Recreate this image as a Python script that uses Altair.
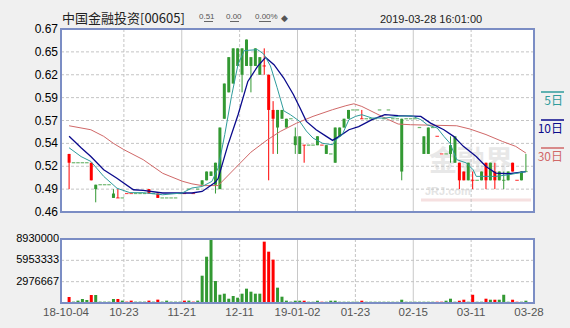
import json
import altair as alt
import pandas as pd

# ---------------- data ----------------
opens = [.53,.52,.52,.52,.52,.52,.49,.495,.495,.495,
         .48,.48,.48,.485,.485,.485,.485,.485,.49,.485,
         .485,.48,.48,.48,.48,.485,.485,.49,.485,.49,
         .495,.50,.505,.495,.49,.57,.60,.61,.63,.62,
         .63,.63,.63,.62,.63,.62,.58,.56,.57,.56,
         .57,.54,.53,.54,.54,.54,.54,.54,.53,.53,
         .52,.55,.56,.57,.58,.58,.57,.57,.57,.57,
         .58,.57,.58,.57,.57,.51,.57,.57,.57,.56,
         .53,.53,.56,.55,.53,.53,.53,.52,.52,.51,
         .50,.50,.50,.50,.52,.50,.51,.50,.50,.50,
         .52,.50,.50,.51]
highs = [.53,.52,.52,.52,.52,.52,.495,.495,.495,.495,
         .49,.49,.48,.485,.485,.485,.485,.485,.49,.485,
         .485,.48,.48,.48,.48,.485,.485,.49,.485,.49,
         .50,.51,.51,.52,.56,.61,.64,.65,.65,.65,
         .66,.64,.65,.64,.65,.62,.59,.58,.58,.57,
         .57,.56,.55,.54,.54,.54,.55,.54,.54,.53,
         .56,.56,.57,.58,.58,.58,.58,.57,.57,.57,
         .58,.57,.58,.57,.57,.57,.57,.57,.57,.56,
         .55,.56,.56,.55,.53,.53,.55,.55,.52,.51,
         .52,.51,.50,.51,.52,.52,.52,.51,.51,.51,
         .52,.50,.51,.53]
lows = [.49,.52,.52,.52,.52,.50,.475,.495,.495,.495,
        .48,.48,.48,.485,.485,.485,.485,.485,.485,.485,
        .48,.48,.48,.48,.48,.485,.485,.49,.485,.49,
        .495,.50,.505,.485,.49,.57,.60,.61,.63,.60,
        .63,.60,.63,.62,.62,.50,.53,.53,.57,.56,
        .57,.53,.53,.52,.54,.54,.54,.54,.53,.53,
        .52,.55,.56,.57,.58,.58,.57,.57,.57,.57,
        .58,.57,.58,.57,.57,.50,.57,.57,.57,.56,
        .53,.53,.56,.55,.53,.53,.52,.52,.49,.50,
        .50,.49,.50,.50,.49,.50,.49,.50,.49,.50,
        .51,.50,.50,.51]
closes = [.52,.52,.52,.52,.52,.50,.495,.495,.495,.495,
          .485,.48,.48,.485,.485,.485,.485,.485,.485,.485,
          .48,.48,.48,.48,.48,.485,.485,.49,.485,.49,
          .50,.51,.51,.52,.56,.61,.64,.65,.65,.65,
          .66,.64,.65,.64,.63,.58,.57,.58,.58,.57,
          .57,.55,.55,.54,.54,.54,.55,.54,.54,.53,
          .56,.56,.57,.58,.58,.58,.57,.57,.57,.57,
          .58,.57,.58,.57,.57,.57,.57,.57,.57,.56,
          .55,.56,.56,.55,.53,.53,.54,.55,.50,.50,
          .52,.50,.50,.51,.50,.52,.50,.51,.50,.51,
          .51,.50,.51,.51]
direction = list("RGGGGRGGGG" "GRGRRGGGRG" "RGGGGGRGRG" "GGGGGGGGGG"
                 "GGGGRRRGGG" "GGGRGGGRGG" "GGGGGGRGGG" "GGGGGGGGGG"
                 "GGGRRGGGRR" "GRGGRGRGGG" "RRGG")
volume = [840000,190000,330000,560000,420000,1120000,1120000,190000,190000,190000,
          560000,560000,330000,190000,330000,190000,190000,190000,330000,190000,
          470000,190000,330000,190000,190000,190000,330000,330000,190000,330000,
          3810000,6460000,8930000,3070000,1160000,1300000,600000,980000,740000,1300000,
          2000000,1580000,1300000,1300000,8560000,7160000,6050000,2140000,880000,330000,
          190000,320000,320000,320000,180000,180000,320000,180000,180000,320000,
          320000,180000,180000,180000,180000,180000,320000,180000,180000,180000,
          180000,180000,180000,180000,180000,460000,180000,180000,180000,180000,
          180000,180000,180000,180000,180000,320000,600000,180000,320000,460000,
          180000,1150000,180000,180000,600000,460000,460000,460000,1150000,180000,
          460000,180000,180000,320000]

ma5_i = [0, 2.7, 4.9, 7.8, 10.8, 13.7, 16.7, 21.1, 25.5, 27.7, 30, 32.2, 33.6, 35.1, 36.6,
         38.1, 39.5, 42.5, 43.9, 45.4, 46.9, 48.4, 49.9, 52.0, 53.5, 55, 57.2, 59.4, 60.2, 61.6,
         63.1, 64.6, 66, 68.3, 71.2, 74.2, 77.1, 79.3, 80.8, 83, 84.5, 85.9, 87.4, 89.6, 91.1,
         91.8, 96.2, 99.2, 103]
ma5_v = [.537, .527, .5215, .5045, .491, .486, .486, .4836, .4856, .4913, .493, .4988, .514, .552, .595,
         .632, .6475, .6485, .6435, .630, .6055, .579, .5746, .567, .556, .548, .542, .5405, .546, .552,
         .569, .5727, .5746, .5708, .5708, .5727, .5735, .569, .563, .5595, .55, .542, .5235, .5197, .512,
         .5045, .5045, .5064, .510]
ma10_i = [0, 2.7, 4.9, 7.8, 10.7, 14.5, 16.7, 21.1, 27.7, 30, 32.9, 33.6, 35.8, 38.1, 40.3,
          42.5, 44.3, 46.2, 48.4, 50.6, 52.1, 53.5, 55.7, 58, 59.4, 60.9, 63.1, 65.3, 68.3, 71.2,
          74.2, 79.3, 81.5, 84.5, 86.7, 88.9, 91.8, 94, 96.2, 99.2, 103]
ma10_v = [.550, .537, .527, .512, .5027, .4893, .4886, .4856, .4856, .4874, .4974, .502, .540, .5746, .6124,
          .6295, .6397, .6314, .6163, .5973, .582, .567, .5575, .550, .5454, .550, .5575, .561, .569, .5746,
          .5735, .5727, .565, .5575, .55, .5386, .527, .5158, .5083, .5075, .510]
ma30_i = [0, 4.9, 7.8, 10, 12.3, 16.7, 21.1, 25.5, 27.7, 30, 33.6, 37.3, 41, 44.7, 47.6,
          51.3, 55, 59.4, 62.4, 64.2, 66, 69, 72, 74.2, 77, 87.4, 90.4, 94, 97.7, 100.7, 103]
ma30_v = [.562, .5575, .550, .542, .535, .5235, .508, .499, .496, .494, .494, .513, .532, .546, .5555,
          .565, .5727, .5803, .5848, .587, .584, .5765, .569, .564, .5632, .562, .5583, .552, .5442, .5386, .531]

y_ticks = [0.464, 0.49, 0.516, 0.542, 0.568, 0.594, 0.62, 0.646, 0.672]
vol_ticks = [2976667, 5953333, 8930000]
x_labels = ["18-10-04", "10-23", "11-21", "12-11", "19-01-02", "01-23", "02-15", "03-11", "03-28"]
title_name = "中国金融投资[00605]"
quote_items = ["0.51", "0.00", "0.00%"]
stamp = "2019-03-28 16:01:00"
legend_names = ["5日", "10日", "30日"]

# ---------------- layout / style ----------------
W, H = 473, 275
MAIN_H = 183
VOL_TOP, VOL_BOT = 210, 274
X_LO, X_HI = -0.7, len(opens) - 1 + 0.7
GREEN, RED = "#339933", "#ff0000"
C5, C10, C30 = "#2f9c9c", "#0a0a8c", "#d06868"
BORDER = "#7b8dc4"
GRID = "#c4c4c4"
FONT = "Liberation Sans"
CJK = "Noto Sans CJK SC"

df = pd.DataFrame({"i": list(range(len(opens))), "o": opens, "h": highs, "l": lows,
                   "c": closes, "d": direction, "v": volume})

xs = alt.Scale(domain=[X_LO, X_HI], nice=False, zero=False)
ys = alt.Scale(domain=[y_ticks[0], y_ticks[-1]], range=[MAIN_H, 0], nice=False, zero=False)
vs = alt.Scale(domain=[0, vol_ticks[-1]], range=[VOL_BOT, VOL_TOP], nice=False)
col = alt.Color("d:N", scale=alt.Scale(domain=["G", "R"], range=[GREEN, RED]), legend=None)

step = (X_HI - X_LO) / (len(x_labels) - 1)
x_pos = [X_LO + k * step for k in range(len(x_labels))]

one = pd.DataFrame({"a": [0]})


def box(y0, y1, **kw):
    return alt.Chart(one).mark_rect(**kw).encode(
        x=alt.value(0), x2=alt.value(W), y=alt.value(y0), y2=alt.value(y1))


def txt(s, x, y, **kw):
    return alt.Chart(one).mark_text(text=s, **kw).encode(x=alt.value(x), y=alt.value(y))


def hseg(x0, x1, y, color, w=1):
    return alt.Chart(one).mark_rule(color=color, strokeWidth=w).encode(
        x=alt.value(x0), x2=alt.value(x1), y=alt.value(y))


# gridlines
hg_main = alt.Chart(pd.DataFrame({"y": y_ticks[1:-1]})).mark_rule(
    color=GRID, strokeDash=[3, 2], strokeWidth=1).encode(
    y=alt.Y("y:Q", scale=ys, axis=None), x=alt.value(0), x2=alt.value(W))

# tick labels drawn through the scales
ylab_main = alt.Chart(pd.DataFrame({"y": y_ticks})).mark_text(
    align="right", baseline="middle", font=FONT, fontSize=12, color="#000").encode(
    y=alt.Y("y:Q", scale=ys, axis=None), x=alt.value(-3), text=alt.Text("y:Q", format=".2f"))

vg = pd.DataFrame({"p": x_pos[1:-1], "k": list(range(1, len(x_pos) - 1))})
vg_dash = vg[vg.k % 2 == 1]
vg_solid = vg[vg.k % 2 == 0]


def vgrid(data, y0, y1, dash):
    kw = dict(color=GRID if dash else "#c8c8c8", strokeWidth=1)
    if dash:
        kw["strokeDash"] = [3, 2]
    return alt.Chart(data).mark_rule(**kw).encode(
        x=alt.X("p:Q", scale=xs, axis=None), y=alt.value(y0), y2=alt.value(y1))


xlab = alt.Chart(pd.DataFrame({"p": x_pos, "t": x_labels})).mark_text(
    align="center", baseline="top", font=FONT, fontSize=11.5, color="#555").encode(
    x=alt.X("p:Q", scale=xs, axis=None), y=alt.value(VOL_BOT + 4), text="t:N")

wick = alt.Chart(df).transform_filter("datum.h > datum.l").mark_rule(strokeWidth=1).encode(
    x=alt.X("i:Q", scale=xs, axis=None), y=alt.Y("l:Q", scale=ys, axis=None), y2="h:Q", color=col)
body = alt.Chart(df).transform_filter("datum.o != datum.c").mark_bar(size=3).encode(
    x=alt.X("i:Q", scale=xs, axis=None), y=alt.Y("o:Q", scale=ys, axis=None), y2="c:Q", color=col)
doji = alt.Chart(df).transform_filter("datum.o == datum.c").mark_tick(
    orient="horizontal", size=3.5, thickness=1.2).encode(
    x=alt.X("i:Q", scale=xs, axis=None), y=alt.Y("c:Q", scale=ys, axis=None), color=col)


def ma(ix, vals, color, w):
    return alt.Chart(pd.DataFrame({"i": ix, "v": vals})).mark_line(color=color, strokeWidth=w).encode(
        x=alt.X("i:Q", scale=xs, axis=None), y=alt.Y("v:Q", scale=ys, axis=None))


border_main = box(0, MAIN_H, fillOpacity=0, stroke=BORDER, strokeWidth=2)

texts = [
    txt(title_name, 1, -10, font=CJK, fontSize=13, color="#222", align="left", baseline="middle"),
    txt(quote_items[0], 138, -12, font=FONT, fontSize=8, color="#555", align="left", baseline="middle"),
    txt(quote_items[1], 165, -12, font=FONT, fontSize=8, color="#555", align="left", baseline="middle"),
    txt(quote_items[2], 194, -12, font=FONT, fontSize=8, color="#555", align="left", baseline="middle"),
    txt("◆", 220, -11, font="DejaVu Sans", fontSize=9, color="#555", align="left", baseline="middle"),
    hseg(143, 152, -7.5, "#666"), hseg(169, 178, -7.5, "#666"), hseg(198, 210, -7.5, "#666"),
    txt(stamp, 319, -9, font=FONT, fontSize=11, color="#222", align="left", baseline="middle"),
    hseg(480, 503, 63, C5, 1.5), hseg(480, 503, 91, C10, 1.5), hseg(480, 503, 119, C30, 1.5),
    txt(legend_names[0], 502, 72, font=CJK, fontSize=12, color=C5, align="right", baseline="middle"),
    txt(legend_names[1], 502, 100, font=CJK, fontSize=12, color=C10, align="right", baseline="middle"),
    txt(legend_names[2], 502, 128, font=CJK, fontSize=12, color=C30, align="right", baseline="middle"),
]

watermark = [
    hseg(360, 470, 171, "#f6e0e0", 3),
    txt("金融界", 410, 134, font=CJK, fontSize=28, fontWeight="bold", color="#e8e8e8",
        align="center", baseline="middle"),
    txt("JRJ.com", 364, 163, font=FONT, fontSize=11, fontWeight="bold", color="#e4e4e4",
        align="left", baseline="middle"),
]

main = alt.layer(
    box(0, MAIN_H, fill="white"),
    box(VOL_TOP, VOL_BOT, fill="white"),
    *watermark,
    hg_main,
    vgrid(vg_dash, 0, MAIN_H, True), vgrid(vg_solid, 0, MAIN_H, False),
    vgrid(vg_dash, VOL_TOP, VOL_BOT, True), vgrid(vg_solid, VOL_TOP, VOL_BOT, False),
    wick, body, doji,
    ma(ma30_i, ma30_v, C30, 1), ma(ma10_i, ma10_v, C10, 1.3), ma(ma5_i, ma5_v, C5, 1),
    border_main,
    ylab_main, xlab,
    *texts,
)

hg_vol = alt.Chart(pd.DataFrame({"y": vol_ticks[:-1]})).mark_rule(
    color=GRID, strokeDash=[3, 2], strokeWidth=1).encode(
    y=alt.Y("y:Q", scale=vs, axis=None), x=alt.value(0), x2=alt.value(W))

ylab_vol = alt.Chart(pd.DataFrame({"y": vol_ticks})).mark_text(
    align="right", baseline="middle", font=FONT, fontSize=11, color="#000").encode(
    y=alt.Y("y:Q", scale=vs, axis=None), x=alt.value(-2), text=alt.Text("y:Q", format="d"))

vol_bars = alt.Chart(df).mark_bar(size=3).encode(
    x=alt.X("i:Q", scale=xs, axis=None),
    y=alt.Y("v:Q", scale=vs, axis=None),
    color=col)

border_vol = box(VOL_TOP, VOL_BOT, fillOpacity=0, stroke=BORDER, strokeWidth=2)

vol = alt.layer(hg_vol, vol_bars, border_vol, ylab_vol)

chart = alt.layer(main, vol).resolve_scale(y="independent").properties(
    width=W, height=H,
    padding={"left": 61, "top": 29, "right": 36, "bottom": 24},
    autosize=alt.AutoSizeParams(type="none"),
    background="#f0f0f0",
).configure_view(strokeWidth=0)

chart.save("out.html", embed_options={"renderer": "svg", "actions": False})
